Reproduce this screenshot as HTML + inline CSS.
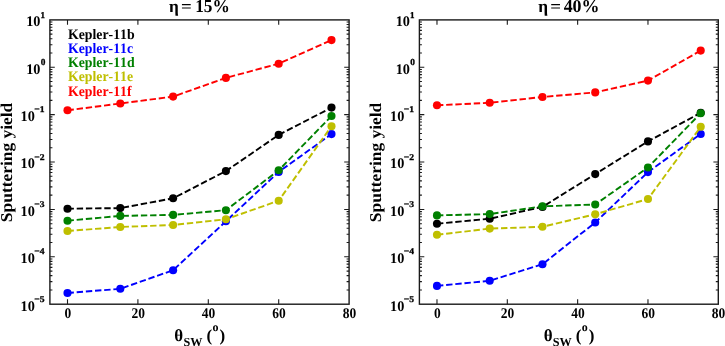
<!DOCTYPE html>
<html><head><meta charset="utf-8"><title>Sputtering yield</title>
<style>html,body{margin:0;padding:0;background:#fff}svg{display:block}</style></head>
<body>
<svg width="725" height="346" viewBox="0 0 725 346" font-family="'Liberation Serif', 'Times New Roman', serif" font-weight="bold" style="font-kerning:none;text-rendering:geometricPrecision">
<rect width="725" height="346" fill="#fff"/>
<path d="M67.50 304.2v-4.9M67.50 19.9v4.9M137.90 304.2v-4.9M137.90 19.9v4.9M208.30 304.2v-4.9M208.30 19.9v4.9M278.70 304.2v-4.9M278.70 19.9v4.9M49.9 289.94h2.5M349.1 289.94h-2.5M49.9 281.59h2.5M349.1 281.59h-2.5M49.9 275.67h2.5M349.1 275.67h-2.5M49.9 271.08h2.5M349.1 271.08h-2.5M49.9 267.33h2.5M349.1 267.33h-2.5M49.9 264.16h2.5M349.1 264.16h-2.5M49.9 261.41h2.5M349.1 261.41h-2.5M49.9 258.98h2.5M349.1 258.98h-2.5M49.9 256.82h4.9M349.1 256.82h-4.9M49.9 242.55h2.5M349.1 242.55h-2.5M49.9 234.21h2.5M349.1 234.21h-2.5M49.9 228.29h2.5M349.1 228.29h-2.5M49.9 223.70h2.5M349.1 223.70h-2.5M49.9 219.95h2.5M349.1 219.95h-2.5M49.9 216.77h2.5M349.1 216.77h-2.5M49.9 214.03h2.5M349.1 214.03h-2.5M49.9 211.60h2.5M349.1 211.60h-2.5M49.9 209.43h4.9M349.1 209.43h-4.9M49.9 195.17h2.5M349.1 195.17h-2.5M49.9 186.83h2.5M349.1 186.83h-2.5M49.9 180.91h2.5M349.1 180.91h-2.5M49.9 176.31h2.5M349.1 176.31h-2.5M49.9 172.56h2.5M349.1 172.56h-2.5M49.9 169.39h2.5M349.1 169.39h-2.5M49.9 166.64h2.5M349.1 166.64h-2.5M49.9 164.22h2.5M349.1 164.22h-2.5M49.9 162.05h4.9M349.1 162.05h-4.9M49.9 147.79h2.5M349.1 147.79h-2.5M49.9 139.44h2.5M349.1 139.44h-2.5M49.9 133.52h2.5M349.1 133.52h-2.5M49.9 128.93h2.5M349.1 128.93h-2.5M49.9 125.18h2.5M349.1 125.18h-2.5M49.9 122.01h2.5M349.1 122.01h-2.5M49.9 119.26h2.5M349.1 119.26h-2.5M49.9 116.83h2.5M349.1 116.83h-2.5M49.9 114.67h4.9M349.1 114.67h-4.9M49.9 100.40h2.5M349.1 100.40h-2.5M49.9 92.06h2.5M349.1 92.06h-2.5M49.9 86.14h2.5M349.1 86.14h-2.5M49.9 81.55h2.5M349.1 81.55h-2.5M49.9 77.80h2.5M349.1 77.80h-2.5M49.9 74.62h2.5M349.1 74.62h-2.5M49.9 71.88h2.5M349.1 71.88h-2.5M49.9 69.45h2.5M349.1 69.45h-2.5M49.9 67.28h4.9M349.1 67.28h-4.9M49.9 53.02h2.5M349.1 53.02h-2.5M49.9 44.68h2.5M349.1 44.68h-2.5M49.9 38.76h2.5M349.1 38.76h-2.5M49.9 34.16h2.5M349.1 34.16h-2.5M49.9 30.41h2.5M349.1 30.41h-2.5M49.9 27.24h2.5M349.1 27.24h-2.5M49.9 24.49h2.5M349.1 24.49h-2.5M49.9 22.07h2.5M349.1 22.07h-2.5" stroke="#1a1a1a" stroke-width="1.1" fill="none"/>
<path d="M67.50 208.70L120.30 208.10L173.10 198.30L225.90 171.10L278.70 134.90L331.50 107.60" stroke="#000000" stroke-width="1.9" stroke-dasharray="6.4 2.8" fill="none"/>
<circle cx="67.50" cy="208.70" r="4.05" fill="#000000"/>
<circle cx="120.30" cy="208.10" r="4.05" fill="#000000"/>
<circle cx="173.10" cy="198.30" r="4.05" fill="#000000"/>
<circle cx="225.90" cy="171.10" r="4.05" fill="#000000"/>
<circle cx="278.70" cy="134.90" r="4.05" fill="#000000"/>
<circle cx="331.50" cy="107.60" r="4.05" fill="#000000"/>
<path d="M67.50 293.00L120.30 288.80L173.10 270.20L225.90 221.30L278.70 171.90L331.50 134.10" stroke="#0000ff" stroke-width="1.9" stroke-dasharray="6.4 2.8" fill="none"/>
<circle cx="67.50" cy="293.00" r="4.05" fill="#0000ff"/>
<circle cx="120.30" cy="288.80" r="4.05" fill="#0000ff"/>
<circle cx="173.10" cy="270.20" r="4.05" fill="#0000ff"/>
<circle cx="225.90" cy="221.30" r="4.05" fill="#0000ff"/>
<circle cx="278.70" cy="171.90" r="4.05" fill="#0000ff"/>
<circle cx="331.50" cy="134.10" r="4.05" fill="#0000ff"/>
<path d="M67.50 220.70L120.30 215.90L173.10 214.90L225.90 210.20L278.70 170.30L331.50 116.00" stroke="#008000" stroke-width="1.9" stroke-dasharray="6.4 2.8" fill="none"/>
<circle cx="67.50" cy="220.70" r="4.05" fill="#008000"/>
<circle cx="120.30" cy="215.90" r="4.05" fill="#008000"/>
<circle cx="173.10" cy="214.90" r="4.05" fill="#008000"/>
<circle cx="225.90" cy="210.20" r="4.05" fill="#008000"/>
<circle cx="278.70" cy="170.30" r="4.05" fill="#008000"/>
<circle cx="331.50" cy="116.00" r="4.05" fill="#008000"/>
<path d="M67.50 231.00L120.30 227.00L173.10 225.00L225.90 219.30L278.70 200.70L331.50 126.20" stroke="#bfbf00" stroke-width="1.9" stroke-dasharray="6.4 2.8" fill="none"/>
<circle cx="67.50" cy="231.00" r="4.05" fill="#bfbf00"/>
<circle cx="120.30" cy="227.00" r="4.05" fill="#bfbf00"/>
<circle cx="173.10" cy="225.00" r="4.05" fill="#bfbf00"/>
<circle cx="225.90" cy="219.30" r="4.05" fill="#bfbf00"/>
<circle cx="278.70" cy="200.70" r="4.05" fill="#bfbf00"/>
<circle cx="331.50" cy="126.20" r="4.05" fill="#bfbf00"/>
<path d="M67.50 110.30L120.30 103.50L173.10 96.60L225.90 77.90L278.70 63.70L331.50 40.10" stroke="#ff0000" stroke-width="1.9" stroke-dasharray="6.4 2.8" fill="none"/>
<circle cx="67.50" cy="110.30" r="4.05" fill="#ff0000"/>
<circle cx="120.30" cy="103.50" r="4.05" fill="#ff0000"/>
<circle cx="173.10" cy="96.60" r="4.05" fill="#ff0000"/>
<circle cx="225.90" cy="77.90" r="4.05" fill="#ff0000"/>
<circle cx="278.70" cy="63.70" r="4.05" fill="#ff0000"/>
<circle cx="331.50" cy="40.10" r="4.05" fill="#ff0000"/>
<rect x="49.9" y="19.9" width="299.20" height="284.30" fill="none" stroke="#1a1a1a" stroke-width="1.4"/>
<text x="67.80" y="318.0" font-size="14.8" textLength="6.75" lengthAdjust="spacingAndGlyphs" text-anchor="middle">0</text>
<text x="138.20" y="318.0" font-size="14.8" textLength="13.5" lengthAdjust="spacingAndGlyphs" text-anchor="middle">20</text>
<text x="208.60" y="318.0" font-size="14.8" textLength="13.5" lengthAdjust="spacingAndGlyphs" text-anchor="middle">40</text>
<text x="279.00" y="318.0" font-size="14.8" textLength="13.5" lengthAdjust="spacingAndGlyphs" text-anchor="middle">60</text>
<text x="349.40" y="318.0" font-size="14.8" textLength="13.5" lengthAdjust="spacingAndGlyphs" text-anchor="middle">80</text>
<text x="20.60" y="310.50" font-size="14.8" textLength="14.3" lengthAdjust="spacingAndGlyphs">10</text>
<text x="44.60" y="302.40" font-size="8.9" text-anchor="end" stroke="#000" stroke-width="0.3" textLength="10.3" lengthAdjust="spacingAndGlyphs">−5</text>
<text x="20.60" y="263.12" font-size="14.8" textLength="14.3" lengthAdjust="spacingAndGlyphs">10</text>
<text x="44.60" y="254.32" font-size="8.9" text-anchor="end" stroke="#000" stroke-width="0.3" textLength="10.3" lengthAdjust="spacingAndGlyphs">−4</text>
<text x="20.60" y="215.73" font-size="14.8" textLength="14.3" lengthAdjust="spacingAndGlyphs">10</text>
<text x="44.60" y="206.93" font-size="8.9" text-anchor="end" stroke="#000" stroke-width="0.3" textLength="10.3" lengthAdjust="spacingAndGlyphs">−3</text>
<text x="20.60" y="168.35" font-size="14.8" textLength="14.3" lengthAdjust="spacingAndGlyphs">10</text>
<text x="44.60" y="159.55" font-size="8.9" text-anchor="end" stroke="#000" stroke-width="0.3" textLength="10.3" lengthAdjust="spacingAndGlyphs">−2</text>
<text x="20.60" y="120.97" font-size="14.8" textLength="14.3" lengthAdjust="spacingAndGlyphs">10</text>
<text x="44.60" y="112.17" font-size="8.9" text-anchor="end" stroke="#000" stroke-width="0.3" textLength="10.3" lengthAdjust="spacingAndGlyphs">−1</text>
<text x="26.20" y="73.58" font-size="14.8" textLength="14.3" lengthAdjust="spacingAndGlyphs">10</text>
<text x="45.50" y="64.78" font-size="9.3" text-anchor="end" stroke="#000" stroke-width="0.3">0</text>
<text x="26.20" y="26.20" font-size="14.8" textLength="14.3" lengthAdjust="spacingAndGlyphs">10</text>
<text x="45.10" y="18.00" font-size="9.0" text-anchor="end" stroke="#000" stroke-width="0.3">1</text>
<text x="169.00" y="11.7" font-size="17.3">η</text>
<text x="181.00" y="11.7" font-size="17.3" textLength="10.8" lengthAdjust="spacingAndGlyphs">=</text>
<text x="195.20" y="11.7" font-size="18.2" textLength="34.6" lengthAdjust="spacingAndGlyphs">15%</text>
<text transform="translate(11.7 162.45) rotate(-90)" font-size="16.5" textLength="119.4" lengthAdjust="spacingAndGlyphs" text-anchor="middle">Sputtering yield</text>
<text x="174.30" y="341.4" font-size="17">θ</text>
<text x="183.40" y="345.6" font-size="12.2">SW</text>
<text x="206.40" y="341.4" font-size="17">(</text>
<text x="212.50" y="331.3" font-size="12">o</text>
<text x="219.40" y="341.4" font-size="17">)</text>
<path d="M436.98 304.2v-4.9M436.98 19.9v4.9M507.31 304.2v-4.9M507.31 19.9v4.9M577.64 304.2v-4.9M577.64 19.9v4.9M647.97 304.2v-4.9M647.97 19.9v4.9M419.4 289.94h2.5M718.3 289.94h-2.5M419.4 281.59h2.5M718.3 281.59h-2.5M419.4 275.67h2.5M718.3 275.67h-2.5M419.4 271.08h2.5M718.3 271.08h-2.5M419.4 267.33h2.5M718.3 267.33h-2.5M419.4 264.16h2.5M718.3 264.16h-2.5M419.4 261.41h2.5M718.3 261.41h-2.5M419.4 258.98h2.5M718.3 258.98h-2.5M419.4 256.82h4.9M718.3 256.82h-4.9M419.4 242.55h2.5M718.3 242.55h-2.5M419.4 234.21h2.5M718.3 234.21h-2.5M419.4 228.29h2.5M718.3 228.29h-2.5M419.4 223.70h2.5M718.3 223.70h-2.5M419.4 219.95h2.5M718.3 219.95h-2.5M419.4 216.77h2.5M718.3 216.77h-2.5M419.4 214.03h2.5M718.3 214.03h-2.5M419.4 211.60h2.5M718.3 211.60h-2.5M419.4 209.43h4.9M718.3 209.43h-4.9M419.4 195.17h2.5M718.3 195.17h-2.5M419.4 186.83h2.5M718.3 186.83h-2.5M419.4 180.91h2.5M718.3 180.91h-2.5M419.4 176.31h2.5M718.3 176.31h-2.5M419.4 172.56h2.5M718.3 172.56h-2.5M419.4 169.39h2.5M718.3 169.39h-2.5M419.4 166.64h2.5M718.3 166.64h-2.5M419.4 164.22h2.5M718.3 164.22h-2.5M419.4 162.05h4.9M718.3 162.05h-4.9M419.4 147.79h2.5M718.3 147.79h-2.5M419.4 139.44h2.5M718.3 139.44h-2.5M419.4 133.52h2.5M718.3 133.52h-2.5M419.4 128.93h2.5M718.3 128.93h-2.5M419.4 125.18h2.5M718.3 125.18h-2.5M419.4 122.01h2.5M718.3 122.01h-2.5M419.4 119.26h2.5M718.3 119.26h-2.5M419.4 116.83h2.5M718.3 116.83h-2.5M419.4 114.67h4.9M718.3 114.67h-4.9M419.4 100.40h2.5M718.3 100.40h-2.5M419.4 92.06h2.5M718.3 92.06h-2.5M419.4 86.14h2.5M718.3 86.14h-2.5M419.4 81.55h2.5M718.3 81.55h-2.5M419.4 77.80h2.5M718.3 77.80h-2.5M419.4 74.62h2.5M718.3 74.62h-2.5M419.4 71.88h2.5M718.3 71.88h-2.5M419.4 69.45h2.5M718.3 69.45h-2.5M419.4 67.28h4.9M718.3 67.28h-4.9M419.4 53.02h2.5M718.3 53.02h-2.5M419.4 44.68h2.5M718.3 44.68h-2.5M419.4 38.76h2.5M718.3 38.76h-2.5M419.4 34.16h2.5M718.3 34.16h-2.5M419.4 30.41h2.5M718.3 30.41h-2.5M419.4 27.24h2.5M718.3 27.24h-2.5M419.4 24.49h2.5M718.3 24.49h-2.5M419.4 22.07h2.5M718.3 22.07h-2.5" stroke="#1a1a1a" stroke-width="1.1" fill="none"/>
<path d="M436.98 223.70L489.73 218.70L542.48 206.90L595.22 174.10L647.97 141.40L700.72 112.80" stroke="#000000" stroke-width="1.9" stroke-dasharray="6.4 2.8" fill="none"/>
<circle cx="436.98" cy="223.70" r="4.05" fill="#000000"/>
<circle cx="489.73" cy="218.70" r="4.05" fill="#000000"/>
<circle cx="542.48" cy="206.90" r="4.05" fill="#000000"/>
<circle cx="595.22" cy="174.10" r="4.05" fill="#000000"/>
<circle cx="647.97" cy="141.40" r="4.05" fill="#000000"/>
<circle cx="700.72" cy="112.80" r="4.05" fill="#000000"/>
<path d="M436.98 285.90L489.73 280.80L542.48 264.20L595.22 222.50L647.97 172.10L700.72 134.00" stroke="#0000ff" stroke-width="1.9" stroke-dasharray="6.4 2.8" fill="none"/>
<circle cx="436.98" cy="285.90" r="4.05" fill="#0000ff"/>
<circle cx="489.73" cy="280.80" r="4.05" fill="#0000ff"/>
<circle cx="542.48" cy="264.20" r="4.05" fill="#0000ff"/>
<circle cx="595.22" cy="222.50" r="4.05" fill="#0000ff"/>
<circle cx="647.97" cy="172.10" r="4.05" fill="#0000ff"/>
<circle cx="700.72" cy="134.00" r="4.05" fill="#0000ff"/>
<path d="M436.98 215.40L489.73 214.10L542.48 206.30L595.22 204.50L647.97 167.50L700.72 113.20" stroke="#008000" stroke-width="1.9" stroke-dasharray="6.4 2.8" fill="none"/>
<circle cx="436.98" cy="215.40" r="4.05" fill="#008000"/>
<circle cx="489.73" cy="214.10" r="4.05" fill="#008000"/>
<circle cx="542.48" cy="206.30" r="4.05" fill="#008000"/>
<circle cx="595.22" cy="204.50" r="4.05" fill="#008000"/>
<circle cx="647.97" cy="167.50" r="4.05" fill="#008000"/>
<circle cx="700.72" cy="113.20" r="4.05" fill="#008000"/>
<path d="M436.98 234.80L489.73 228.60L542.48 226.80L595.22 214.30L647.97 199.00L700.72 126.80" stroke="#bfbf00" stroke-width="1.9" stroke-dasharray="6.4 2.8" fill="none"/>
<circle cx="436.98" cy="234.80" r="4.05" fill="#bfbf00"/>
<circle cx="489.73" cy="228.60" r="4.05" fill="#bfbf00"/>
<circle cx="542.48" cy="226.80" r="4.05" fill="#bfbf00"/>
<circle cx="595.22" cy="214.30" r="4.05" fill="#bfbf00"/>
<circle cx="647.97" cy="199.00" r="4.05" fill="#bfbf00"/>
<circle cx="700.72" cy="126.80" r="4.05" fill="#bfbf00"/>
<path d="M436.98 105.30L489.73 102.80L542.48 97.00L595.22 92.40L647.97 80.60L700.72 50.60" stroke="#ff0000" stroke-width="1.9" stroke-dasharray="6.4 2.8" fill="none"/>
<circle cx="436.98" cy="105.30" r="4.05" fill="#ff0000"/>
<circle cx="489.73" cy="102.80" r="4.05" fill="#ff0000"/>
<circle cx="542.48" cy="97.00" r="4.05" fill="#ff0000"/>
<circle cx="595.22" cy="92.40" r="4.05" fill="#ff0000"/>
<circle cx="647.97" cy="80.60" r="4.05" fill="#ff0000"/>
<circle cx="700.72" cy="50.60" r="4.05" fill="#ff0000"/>
<rect x="419.4" y="19.9" width="298.90" height="284.30" fill="none" stroke="#1a1a1a" stroke-width="1.4"/>
<text x="437.28" y="318.0" font-size="14.8" textLength="6.75" lengthAdjust="spacingAndGlyphs" text-anchor="middle">0</text>
<text x="507.61" y="318.0" font-size="14.8" textLength="13.5" lengthAdjust="spacingAndGlyphs" text-anchor="middle">20</text>
<text x="577.94" y="318.0" font-size="14.8" textLength="13.5" lengthAdjust="spacingAndGlyphs" text-anchor="middle">40</text>
<text x="648.27" y="318.0" font-size="14.8" textLength="13.5" lengthAdjust="spacingAndGlyphs" text-anchor="middle">60</text>
<text x="718.60" y="318.0" font-size="14.8" textLength="13.5" lengthAdjust="spacingAndGlyphs" text-anchor="middle">80</text>
<text x="390.10" y="310.50" font-size="14.8" textLength="14.3" lengthAdjust="spacingAndGlyphs">10</text>
<text x="414.10" y="302.40" font-size="8.9" text-anchor="end" stroke="#000" stroke-width="0.3" textLength="10.3" lengthAdjust="spacingAndGlyphs">−5</text>
<text x="390.10" y="263.12" font-size="14.8" textLength="14.3" lengthAdjust="spacingAndGlyphs">10</text>
<text x="414.10" y="254.32" font-size="8.9" text-anchor="end" stroke="#000" stroke-width="0.3" textLength="10.3" lengthAdjust="spacingAndGlyphs">−4</text>
<text x="390.10" y="215.73" font-size="14.8" textLength="14.3" lengthAdjust="spacingAndGlyphs">10</text>
<text x="414.10" y="206.93" font-size="8.9" text-anchor="end" stroke="#000" stroke-width="0.3" textLength="10.3" lengthAdjust="spacingAndGlyphs">−3</text>
<text x="390.10" y="168.35" font-size="14.8" textLength="14.3" lengthAdjust="spacingAndGlyphs">10</text>
<text x="414.10" y="159.55" font-size="8.9" text-anchor="end" stroke="#000" stroke-width="0.3" textLength="10.3" lengthAdjust="spacingAndGlyphs">−2</text>
<text x="390.10" y="120.97" font-size="14.8" textLength="14.3" lengthAdjust="spacingAndGlyphs">10</text>
<text x="414.10" y="112.17" font-size="8.9" text-anchor="end" stroke="#000" stroke-width="0.3" textLength="10.3" lengthAdjust="spacingAndGlyphs">−1</text>
<text x="395.70" y="73.58" font-size="14.8" textLength="14.3" lengthAdjust="spacingAndGlyphs">10</text>
<text x="415.00" y="64.78" font-size="9.3" text-anchor="end" stroke="#000" stroke-width="0.3">0</text>
<text x="395.70" y="26.20" font-size="14.8" textLength="14.3" lengthAdjust="spacingAndGlyphs">10</text>
<text x="414.60" y="18.00" font-size="9.0" text-anchor="end" stroke="#000" stroke-width="0.3">1</text>
<text x="538.35" y="11.7" font-size="17.3">η</text>
<text x="550.35" y="11.7" font-size="17.3" textLength="10.8" lengthAdjust="spacingAndGlyphs">=</text>
<text x="563.65" y="11.7" font-size="18.2" textLength="35.8" lengthAdjust="spacingAndGlyphs">40%</text>
<text transform="translate(381.20 162.45) rotate(-90)" font-size="16.5" textLength="119.4" lengthAdjust="spacingAndGlyphs" text-anchor="middle">Sputtering yield</text>
<text x="543.65" y="341.4" font-size="17">θ</text>
<text x="552.75" y="345.6" font-size="12.2">SW</text>
<text x="575.75" y="341.4" font-size="17">(</text>
<text x="581.85" y="331.3" font-size="12">o</text>
<text x="588.75" y="341.4" font-size="17">)</text>
<text x="68.0" y="38.65" font-size="14.5" textLength="66.7" lengthAdjust="spacingAndGlyphs" fill="#000000">Kepler-11b</text>
<text x="68.0" y="52.90" font-size="14.5" textLength="65.15" lengthAdjust="spacingAndGlyphs" fill="#0000ff">Kepler-11c</text>
<text x="68.0" y="67.15" font-size="14.5" textLength="66.7" lengthAdjust="spacingAndGlyphs" fill="#008000">Kepler-11d</text>
<text x="68.0" y="81.40" font-size="14.5" textLength="65.15" lengthAdjust="spacingAndGlyphs" fill="#bfbf00">Kepler-11e</text>
<text x="68.0" y="95.65" font-size="14.5" textLength="63.6" lengthAdjust="spacingAndGlyphs" fill="#ff0000">Kepler-11f</text>
</svg>
</body></html>
